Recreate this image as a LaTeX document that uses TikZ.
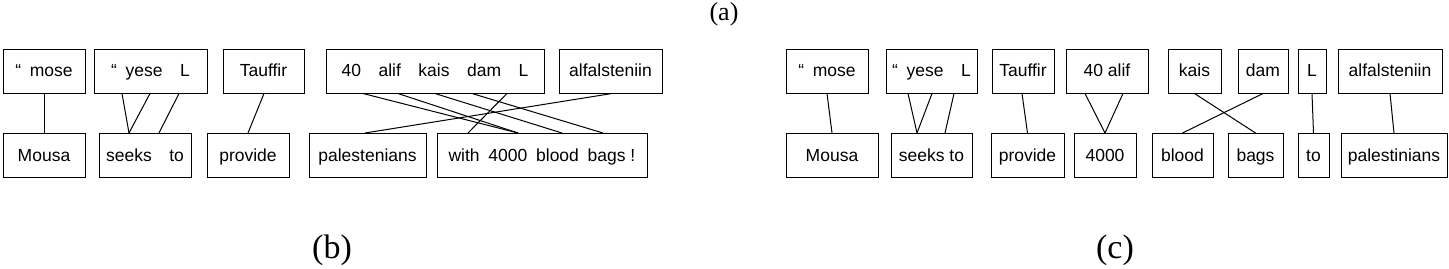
\documentclass[tikz,border=0pt]{standalone}
\usepackage{fontspec}
\setmainfont{Liberation Serif}
\newfontfamily\boxfont{Liberation Sans}

\begin{document}
\begin{tikzpicture}[x=1pt, y=-1pt,
  wordbox/.style={draw, line width=1pt, inner sep=0pt, minimum height=44pt,
    text height=12.5pt, text depth=1pt, font=\boxfont\fontsize{17.5}{20}\selectfont},
  link/.style={line width=1pt},
  panel/.style={font=\fontsize{34}{38}\selectfont}]

\useasboundingbox (0,0) rectangle (1449,268);

\node[font=\fontsize{26}{30}\selectfont, inner sep=0pt] (titlea) at (724,14) {(a)};

% Panel (b): source row, then target row
\foreach \name/\x/\w/\txt in {
    bmose/44/82/{“\enspace mose}, byese/150.5/113/{“\enspace yese\quad L},
    btauffir/263.5/81/{Tauffir}, bforty/435/218/{40\quad alif\quad kais\quad dam\quad L},
    balfal/610.5/103/{alfalsteniin}%
  } {
  \node[wordbox, minimum width=\w pt] (\name) at (\x,71) {\txt};
}
\foreach \name/\x/\w/\txt in {
    bmousa/44/82/{Mousa}, bseeks/145/92/{seeks\quad to},
    bprovide/248/82/{provide}, bpales/367.5/117/{palestenians},
    bwith/542/210/{with\enspace 4000\enspace blood\enspace bags !}%
  } {
  \node[wordbox, minimum width=\w pt] (\name) at (\x,155.5) {\txt};
}

% Panel (c): source row, then target row
\foreach \name/\x/\w/\txt in {
    cmose/827/82/{“\enspace mose}, cyese/931.5/91/{“\enspace yese\quad L},
    ctauffir/1023/62/{Tauffir}, cforty/1107/82/{40 alif},
    ckais/1194.5/53/{kais}, cdam/1263/50/{dam}, cL/1312/28/{L},
    calfal/1390/104/{alfalsteniin}%
  } {
  \node[wordbox, minimum width=\w pt] (\name) at (\x,71) {\txt};
}
\foreach \name/\x/\w/\txt in {
    cmousa/832/92/{Mousa}, cseeks/931.5/81/{seeks to},
    cprovide/1027.5/73/{provide}, cfourk/1105/62/{4000},
    cblood/1182.5/61/{blood}, cbags/1255.5/55/{bags}, cto/1313.5/31/{to},
    cpales/1394/106/{palestinians}%
  } {
  \node[wordbox, minimum width=\w pt] (\name) at (\x,155.5) {\txt};
}

% Alignment links (source word offset / target word offset)
\foreach \s/\ds/\t/\dt in {
    bmose/0/bmousa/0, byese/-28.5/bseeks/-16, byese/-0.5/bseeks/-16,
    byese/28.5/bseeks/14, btauffir/0.5/bprovide/0,
    bforty/-72/bwith/-24, bforty/-37/bwith/-24, bforty/0/bwith/20,
    bforty/37/bwith/61, bforty/72/bwith/-74, balfal/1.5/bpales/-2.5,
    cmose/0/cmousa/0, cyese/-23.5/cseeks/-14.5, cyese/0.5/cseeks/-14.5,
    cyese/22.5/cseeks/13.5, ctauffir/-1/cprovide/0,
    cforty/-22/cfourk/0, cforty/16/cfourk/0,
    ckais/0/cbags/0, cdam/0/cblood/0, cL/0/cto/0, calfal/0/cpales/0%
  } {
  \draw[link] ([xshift=\ds pt]\s.south) -- ([xshift=\dt pt]\t.north);
}

\node[panel] (titleb) at (332,250) {(b)};
\node[panel] (titlec) at (1115,250) {(c)};

\end{tikzpicture}
\end{document}
